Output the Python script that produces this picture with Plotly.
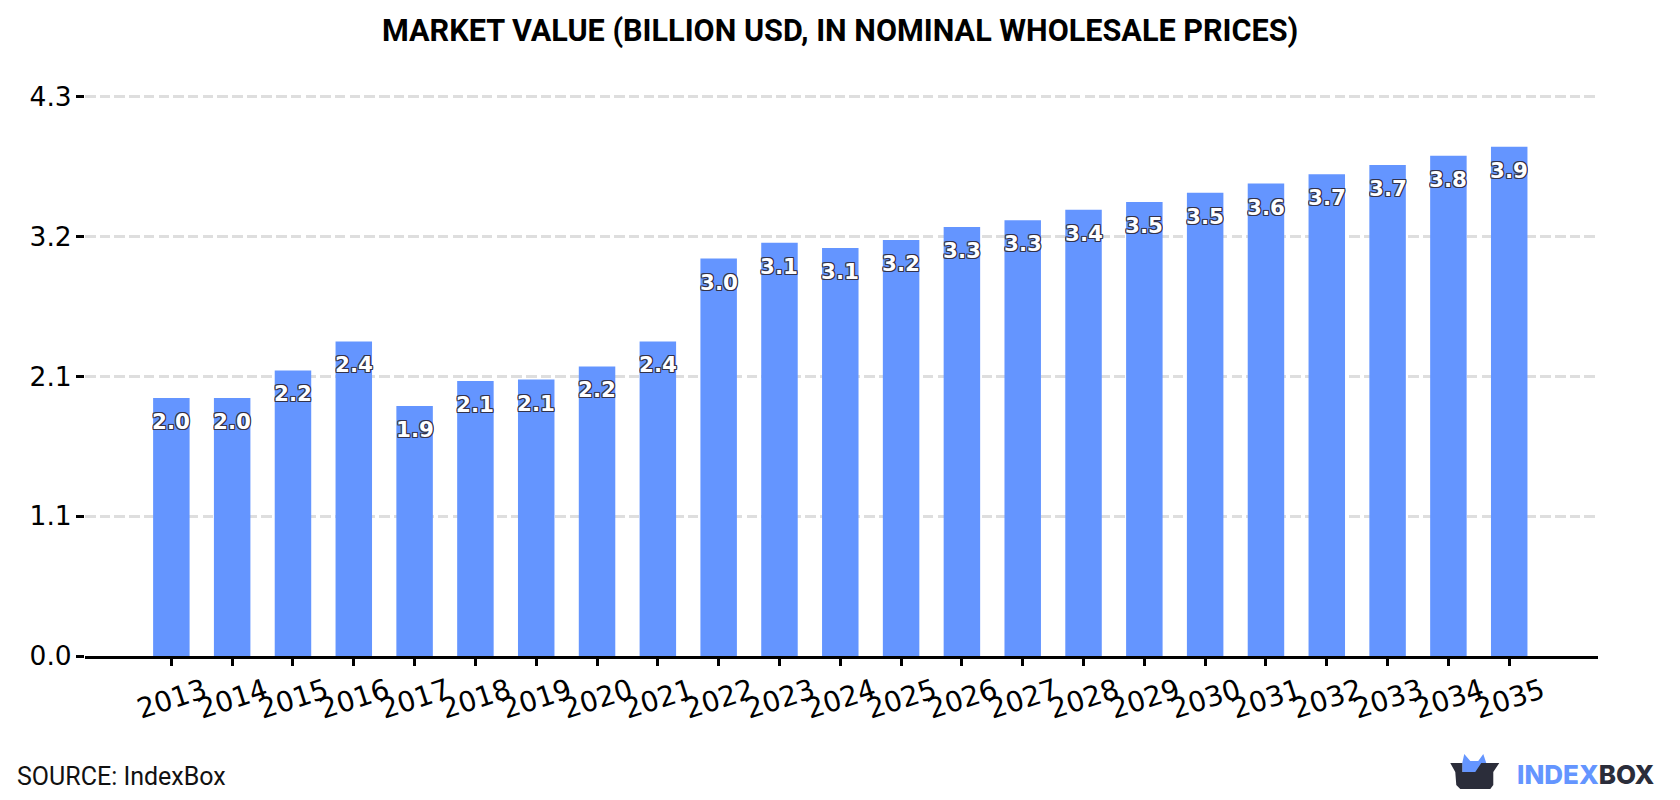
import plotly.graph_objects as go

# Market value series, billion USD
years = [str(y) for y in range(2013, 2036)]
values = [1.96, 1.96, 2.17, 2.39, 1.90, 2.09, 2.10, 2.20, 2.39, 3.02, 3.14, 3.10,
          3.16, 3.26, 3.31, 3.39, 3.45, 3.52, 3.59, 3.66, 3.73, 3.80, 3.87]

y_ticks = [0.0, 1.0625, 2.125, 3.1875, 4.25]
y_labels = ["0.0", "1.1", "2.1", "3.2", "4.3"]
y_top = 4.27

title_text = "MARKET VALUE (BILLION USD, IN NOMINAL WHOLESALE PRICES)"
source_text = "SOURCE: IndexBox"

BAR = "#6495FF"
INK = "#2B2D3A"
W, H = 1680, 800
LEFT, RIGHT, TOP, BOTTOM = 85, 82.3, 94.1, 144
PLOT_W, PLOT_H = W - LEFT - RIGHT, H - TOP - BOTTOM


def paper_x(px):
    return (px - LEFT) / PLOT_W


def paper_y(py):
    return (H - BOTTOM - py) / PLOT_H


def path_from_pixels(points):
    """Closed SVG path in paper coordinates from page pixel positions."""
    parts = [f"{'M' if i == 0 else 'L'}{paper_x(px):.5f},{paper_y(py):.5f}"
             for i, (px, py) in enumerate(points)]
    return " ".join(parts) + " Z"


fig = go.Figure(
    go.Bar(x=years, y=values, width=0.6, marker=dict(color=BAR, line=dict(width=0)),
           hoverinfo="x+y")
)

outline = ",".join(f"{dx}px {dy}px 0 #33334A" for dx, dy in
                   [(-1, -1), (1, -1), (-1, 1), (1, 1), (-1, 0), (1, 0), (0, -1), (0, 1)])

# Value labels sit just inside the top of each bar
annotations = [
    dict(x=i, y=v, xref="x", yref="y", text=f"<b>{v:.1f}</b>", showarrow=False,
         xanchor="center", yanchor="top", yshift=-9,
         font=dict(family="DejaVu Sans", size=21.4, color="white", shadow=outline))
    for i, v in enumerate(values)
]
annotations += [
    dict(text=f"<b>{title_text}</b>", xref="paper", yref="paper",
         x=paper_x(840), y=paper_y(31), xanchor="center", yanchor="middle",
         showarrow=False, font=dict(family="Roboto", size=30.6, color="black")),
    dict(text=source_text, xref="paper", yref="paper",
         x=paper_x(15), y=paper_y(776), xanchor="left", yanchor="middle",
         showarrow=False, font=dict(family="Roboto", size=25, color="#111111")),
    dict(text=f'<span style="color:{BAR}">INDEX</span><span style="color:{INK}">BOX</span>',
         xref="paper", yref="paper",
         x=paper_x(1515), y=paper_y(774), xanchor="left", yanchor="middle",
         showarrow=False, font=dict(family="Inter", size=26, color=INK, weight=800)),
]

# Brand mark: basket with two blue ears above the lid
ears = [(1462, 763), (1464, 754), (1470, 761), (1478, 761), (1483, 754), (1486, 763),
        (1481, 772), (1462, 772)]
basket = [(1450, 763), (1462, 763), (1462, 772), (1475, 772), (1481, 763), (1499, 763),
          (1493, 772), (1493, 785), (1490, 789), (1460, 789), (1456, 785), (1455, 772)]
shapes = [
    dict(type="path", xref="paper", yref="paper", path=path_from_pixels(ears),
         fillcolor=BAR, line=dict(width=0), layer="above"),
    dict(type="path", xref="paper", yref="paper", path=path_from_pixels(basket),
         fillcolor=INK, line=dict(width=0), layer="above"),
]

fig.update_layout(
    width=W, height=H, autosize=False,
    margin=dict(l=LEFT, r=RIGHT, t=TOP, b=BOTTOM, pad=0),
    paper_bgcolor="white", plot_bgcolor="white",
    showlegend=False, annotations=annotations, shapes=shapes,
    bargap=0.4,
    xaxis=dict(
        type="category", range=[-1.42, 23.46], tickmode="array", tickvals=years, ticktext=years,
        tickangle=-18, ticks="outside", ticklen=7, tickwidth=2.5, tickcolor="black",
        ticklabelshift=33, ticklabelstandoff=-2,
        showgrid=False, showline=True, linecolor="black", linewidth=3, zeroline=False,
        tickfont=dict(family="DejaVu Sans", size=28, color="black"),
    ),
    yaxis=dict(
        range=[0, y_top], tickmode="array", tickvals=y_ticks, ticktext=y_labels,
        ticks="outside", ticklen=8, tickwidth=2.5, tickcolor="black",
        ticklabelstandoff=-1,
        showgrid=True, gridcolor="#DEDEDE", gridwidth=2.5, griddash="10.5px,4.2px",
        showline=False, zeroline=False,
        tickfont=dict(family="DejaVu Sans", size=26.5, color="black"),
    ),
)

fig.write_html("out.html")
